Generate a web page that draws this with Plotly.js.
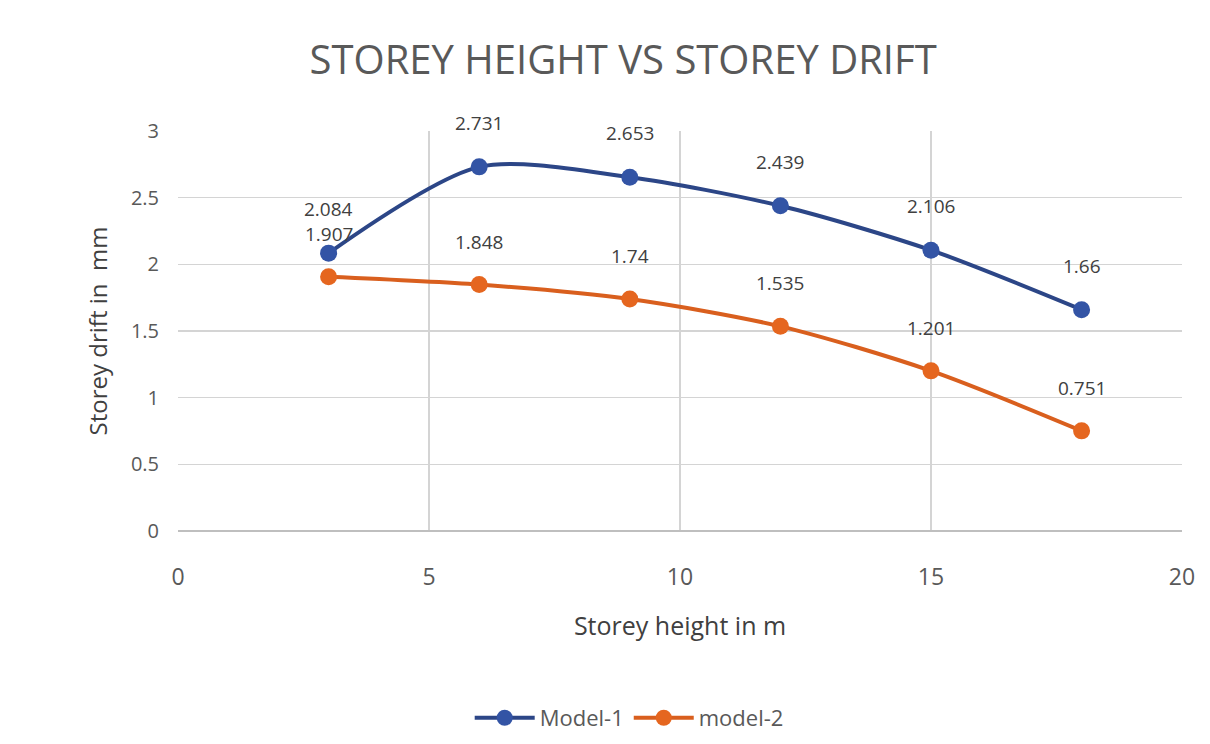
<!DOCTYPE html>
<html>
<head>
<meta charset="utf-8">
<script src="https://cdn.plot.ly/plotly-3.0.1.min.js"></script>
<style>
  html, body { margin: 0; padding: 0; background: #ffffff; }
  #chart { width: 1210px; height: 744px; }
</style>
</head>
<body>
<div id="chart"></div>
<script>
// storey heights (m) and drifts (mm)
var heights = [3, 6, 9, 12, 15, 18];
var model1Drift = [2.084, 2.731, 2.653, 2.439, 2.106, 1.66];
var model2Drift = [1.907, 1.848, 1.74, 1.535, 1.201, 0.751];
var xTicks = [0, 5, 10, 15, 20];
var yTicks = [0, 0.5, 1, 1.5, 2, 2.5, 3];

var labelFont = { family: "Open Sans, Liberation Sans, sans-serif", size: 19, color: "#404040" };
var narrow = "Liberation Sans Narrow, Open Sans, sans-serif";

function makeTrace(name, ys, lineColor, markerColor) {
  return {
    x: heights,
    y: ys,
    name: name,
    type: "scatter",
    mode: "lines+markers",
    line: { color: lineColor, width: 4, shape: "spline", smoothing: 0.8 },
    marker: { color: markerColor, size: 17 },
    cliponaxis: false
  };
}

var data = [
  makeTrace("Model-1", model1Drift, "#2c4687", "#3354a5"),
  makeTrace("model-2", model2Drift, "#d95f1e", "#e5661f")
];

var annotations = [];
function addLabels(ys, shift) {
  for (var i = 0; i < heights.length; i++) {
    annotations.push({
      x: heights[i], y: ys[i], xref: "x", yref: "y",
      text: String(ys[i]), showarrow: false,
      yshift: shift, font: labelFont
    });
  }
}
addLabels(model1Drift, 44);
addLabels(model2Drift, 43);

var layout = {
  width: 1210,
  height: 744,
  paper_bgcolor: "#ffffff",
  plot_bgcolor: "#ffffff",
  margin: { l: 178, r: 28, t: 131, b: 213 },
  title: {
    text: "STOREY HEIGHT VS STOREY DRIFT",
    font: { family: "Open Sans, Liberation Sans, sans-serif", size: 40, color: "#595959" },
    x: 0.515, xanchor: "center", y: 0.92, yanchor: "middle"
  },
  xaxis: {
    range: [0, 20],
    tickvals: xTicks,
    ticktext: xTicks.map(String),
    showgrid: true,
    gridcolor: "#d4d4d4",
    gridwidth: 1.5,
    zeroline: false,
    showline: false,
    ticks: "",
    ticklabelstandoff: 30,
    tickfont: { family: narrow, size: 23, color: "#595959" },
    title: {
      text: "Storey height in m",
      font: { family: narrow, size: 25, color: "#404040" },
      standoff: 26
    }
  },
  yaxis: {
    range: [0, 3],
    tickvals: yTicks,
    ticktext: yTicks.map(String),
    showgrid: true,
    gridcolor: "#d4d4d4",
    gridwidth: 1.5,
    zeroline: true,
    zerolinecolor: "#bfbfbf",
    zerolinewidth: 2,
    showline: false,
    ticks: "",
    ticklabelstandoff: 18,
    tickfont: { family: "Open Sans, Liberation Sans, sans-serif", size: 20, color: "#595959" },
    title: {
      text: "Storey drift in  mm",
      font: { family: "Open Sans, Liberation Sans, sans-serif", size: 24, color: "#404040" },
      standoff: 16
    }
  },
  showlegend: true,
  legend: {
    orientation: "h",
    xref: "container", yref: "container",
    x: 0.52, xanchor: "center",
    y: 0.035, yanchor: "middle",
    font: { family: "Open Sans, Liberation Sans, sans-serif", size: 22, color: "#595959" },
    itemwidth: 60,
    tracegroupgap: 30
  },
  annotations: annotations
};

Plotly.newPlot("chart", data, layout, { displayModeBar: false, staticPlot: true });
</script>
</body>
</html>
